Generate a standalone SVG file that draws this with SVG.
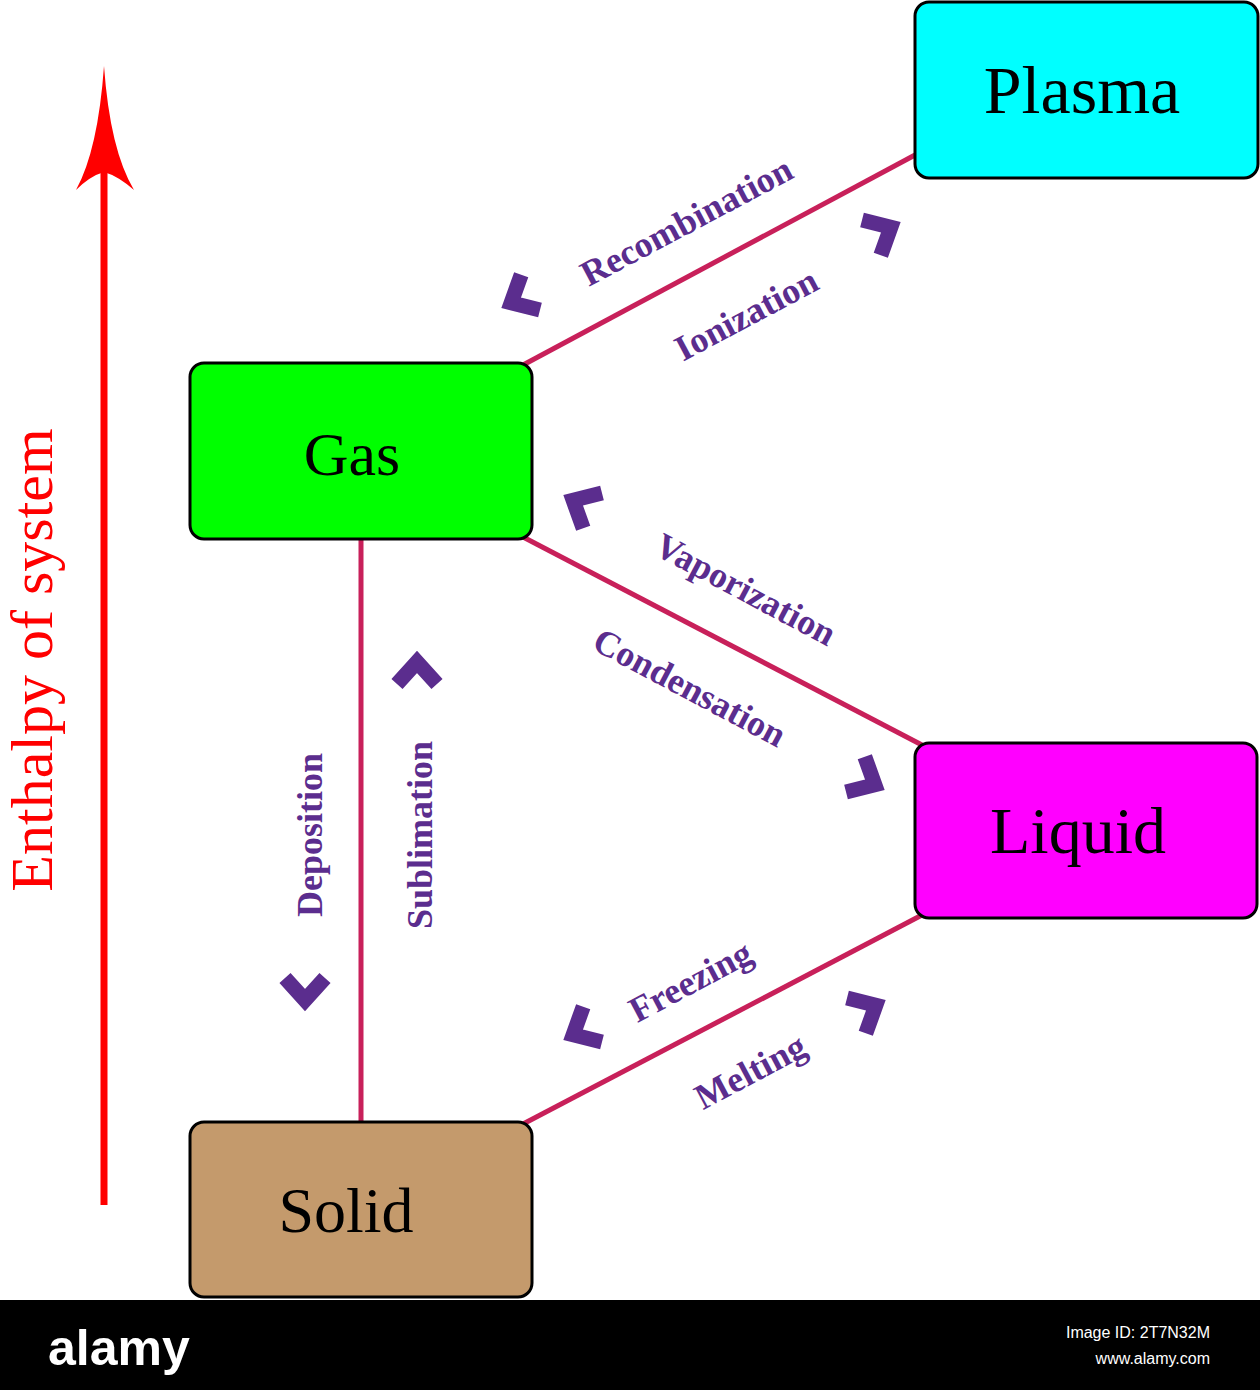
<svg xmlns="http://www.w3.org/2000/svg" width="1260" height="1390" viewBox="0 0 1260 1390">
<style>
.box{stroke:#000;stroke-width:3}
.nt{font-family:"Liberation Serif",serif;fill:#000;text-anchor:middle}
.lb{font-family:"Liberation Serif",serif;font-weight:bold;fill:#5b2d8e;font-size:36px;text-anchor:middle}
.cn{stroke:#c8205a;stroke-width:5;fill:none}
.ch{stroke:#5b2d8e;stroke-width:15;fill:none;stroke-linejoin:miter}
</style>
<defs><path id="chev" d="M12,-20 L-10,0 L12,20"/></defs>
<rect width="1260" height="1390" fill="#fff"/>
<g id="axis">
<line x1="104" y1="1205" x2="104" y2="120" stroke="#f00" stroke-width="7"/>
<path d="M104,66 Q110,150 134,190 Q118,176 104,172 Q90,176 76,190 Q98,150 104,66Z" fill="#f00"/>
<text transform="translate(52,660) rotate(-90)" font-family="Liberation Serif,serif" font-size="60" fill="#f00" text-anchor="middle">Enthalpy of system</text>
</g>
<g id="connectors">
<line class="cn" x1="523" y1="365" x2="915" y2="155"/>
<line class="cn" x1="523" y1="537" x2="922" y2="745"/>
<line class="cn" x1="361" y1="540" x2="361" y2="1122"/>
<line class="cn" x1="523" y1="1124" x2="922" y2="915"/>
<use href="#chev" class="ch" transform="translate(520,298) rotate(-28)"/>
<use href="#chev" class="ch" transform="translate(882,232) rotate(152)"/>
<use href="#chev" class="ch" transform="translate(582,505) rotate(28)"/>
<use href="#chev" class="ch" transform="translate(866,780) rotate(208)"/>
<use href="#chev" class="ch" transform="translate(305,990) rotate(-90)"/>
<use href="#chev" class="ch" transform="translate(417,672) rotate(90)"/>
<use href="#chev" class="ch" transform="translate(582,1030) rotate(-28)"/>
<use href="#chev" class="ch" transform="translate(867,1010) rotate(152)"/>
<text class="lb" transform="translate(692,232) rotate(-28)">Recombination</text>
<text class="lb" transform="translate(752,325) rotate(-28)">Ionization</text>
<text class="lb" transform="translate(740,600) rotate(28)">Vaporization</text>
<text class="lb" transform="translate(684,698) rotate(28)">Condensation</text>
<text class="lb" transform="translate(322,835) rotate(-90)">Deposition</text>
<text class="lb" transform="translate(432,835) rotate(-90)">Sublimation</text>
<text class="lb" transform="translate(696,992) rotate(-28)">Freezing</text>
<text class="lb" transform="translate(756,1082) rotate(-28)" font-family="Liberation Sans,sans-serif">Melting</text>
</g>
<g id="plasma"><rect class="box" x="915" y="2" width="343" height="176" rx="14" fill="#00ffff"/><text class="nt" x="1082" y="113" font-size="68">Plasma</text></g>
<g id="gas"><rect class="box" x="190" y="363" width="342" height="176" rx="14" fill="#00ff00"/><text class="nt" x="352" y="475" font-size="62">Gas</text></g>
<g id="liquid"><rect class="box" x="915" y="743" width="342" height="175" rx="14" fill="#ff00ff"/><text class="nt" x="1078" y="853" font-size="66">Liquid</text></g>
<g id="solid"><rect class="box" x="190" y="1122" width="342" height="175" rx="14" fill="#c49a6c"/><text class="nt" x="346" y="1232" font-size="64">Solid</text></g>
<g id="footer">
<rect x="0" y="1300" width="1260" height="90" fill="#000"/>
<text x="48" y="1365" font-family="Liberation Sans,sans-serif" font-weight="bold" font-size="50" fill="#fff">alamy</text>
<text x="1210" y="1338" font-family="Liberation Sans,sans-serif" font-size="16" fill="#fff" text-anchor="end">Image ID: 2T7N32M</text>
<text x="1210" y="1364" font-family="Liberation Sans,sans-serif" font-size="16" fill="#fff" text-anchor="end">www.alamy.com</text>
</g>
</svg>
